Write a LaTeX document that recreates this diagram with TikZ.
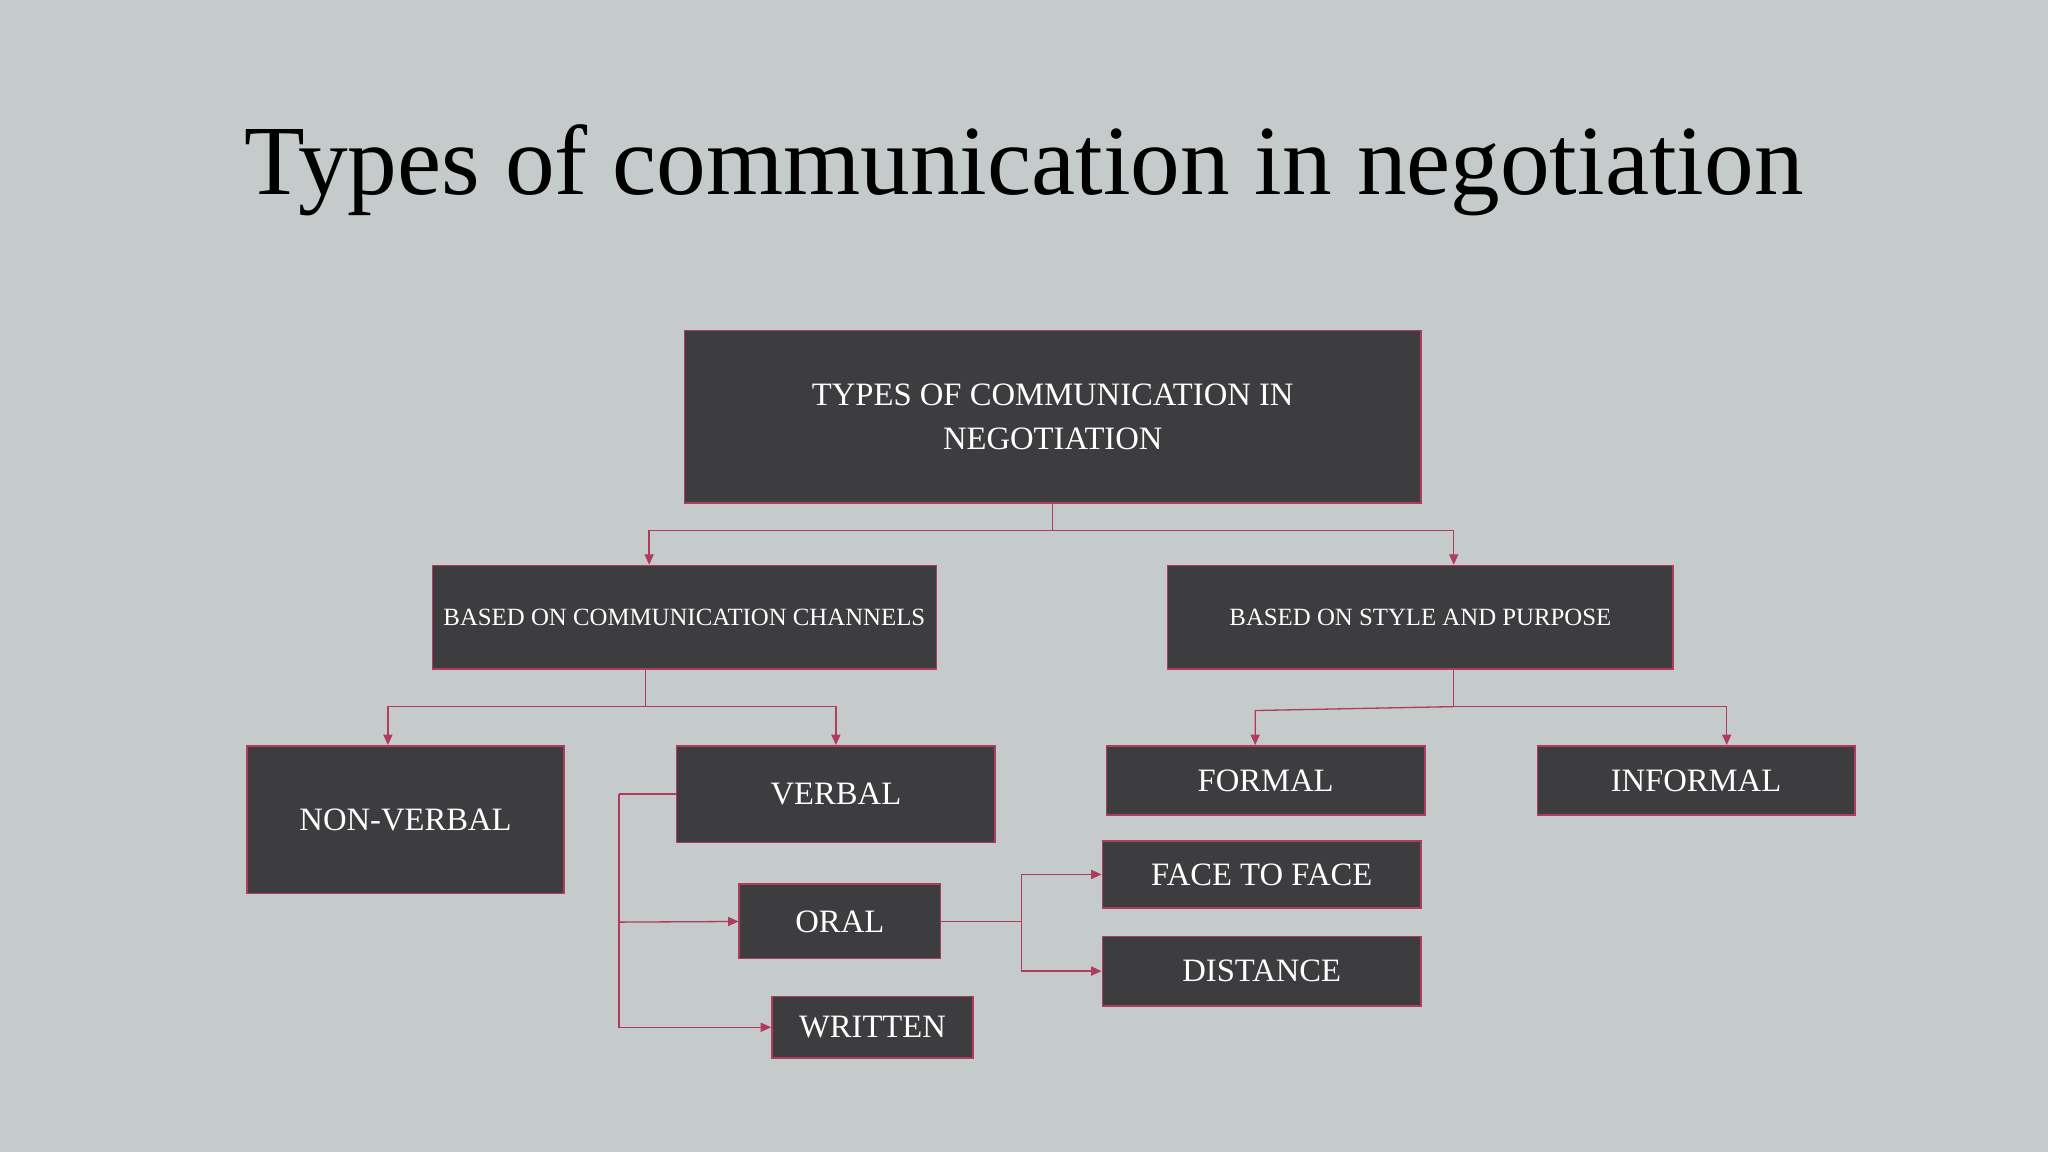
\documentclass[tikz,border=0pt]{standalone}
\usepackage{fontspec}
\setmainfont{Liberation Serif}
\usetikzlibrary{arrows.meta}
\definecolor{bg}{HTML}{C5CBCA}
\definecolor{boxc}{HTML}{3D3C3F}
\definecolor{edge}{HTML}{B03A60}
\begin{document}
\begin{tikzpicture}[x=0.5pt,y=-0.5pt,
  bx/.style={draw=edge,line width=0.6pt,fill=boxc,text=white,align=center,inner sep=0pt},
  ln/.style={draw=edge,line width=0.5pt},
  ar/.style={ln,-{Triangle[length=4pt,width=3.5pt]}}]
\fill[bg] (0,0) rectangle (1568,882);
\useasboundingbox (0,0) rectangle (1568,882);
\node (title) at (784,130) {\fontsize{38}{44}\selectfont Types of communication in negotiation};
\node[bx,minimum width=282pt,minimum height=66pt,font=\fontsize{12.5}{17}\selectfont] (top) at (806,319) {TYPES OF COMMUNICATION IN\\NEGOTIATION};
\node[bx,minimum width=193pt,minimum height=39.5pt,font=\fontsize{9.5}{12}\selectfont] (lm) at (524,472.5) {BASED ON COMMUNICATION CHANNELS};
\node[bx,minimum width=193.5pt,minimum height=39.5pt,font=\fontsize{9.5}{12}\selectfont] (rm) at (1087.5,472.5) {BASED ON STYLE AND PURPOSE};
\tikzset{fs/.style={font=\fontsize{12.5}{15}\selectfont}}
\node[bx,fs,minimum width=121.5pt,minimum height=56.5pt] (nv) at (310.5,627.5) {NON-VERBAL};
\node[bx,fs,minimum width=122pt,minimum height=37pt] (vb) at (640,608) {VERBAL};
\node[bx,fs,minimum width=122pt,minimum height=26.5pt] (fo) at (969,597.5) {FORMAL};
\node[bx,fs,minimum width=121.5pt,minimum height=26.5pt] (inf) at (1298.5,597.5) {INFORMAL};
\node[bx,fs,minimum width=122pt,minimum height=25.5pt] (ff) at (966,669.5) {FACE TO FACE};
\node[bx,fs,minimum width=122pt,minimum height=26.5pt] (di) at (966,743.5) {DISTANCE};
\node[bx,fs,minimum width=77pt,minimum height=28.5pt] (or) at (643,705.5) {ORAL};
\node[bx,fs,minimum width=77pt,minimum height=23.5pt] (wr) at (668,786.5) {WRITTEN};
% top
\coordinate (t1) at (806,406);
\draw[ln] (top.south) -- (t1);
\draw[ar] (t1) -| (lm.north -| 497,0);
\draw[ar] (t1) -| (rm.north -| 1113,0);
% left mid
\coordinate (l1) at (494,541);
\draw[ln] (lm.south -| l1) -- (l1);
\draw[ar] (l1) -| (nv.north -| 297,0);
\draw[ar] (l1) -| (vb.north);
% right mid
\coordinate (r1) at (1113,541);
\draw[ln] (rm.south -| r1) -- (r1);
\draw[ar] (r1) -- (961,544) -- (fo.north -| 961,0);
\draw[ar] (r1) -| (inf.north -| 1322,0);
% verbal
\coordinate (v1) at (474,608);
\draw[ln] (vb.west) -- (v1);
\draw[ar] (v1) |- (wr.west);
\draw[ar] (474,706) -- (or.west);
% oral
\coordinate (o1) at (782,705.5);
\draw[ln] (or.east) -- (o1);
\draw[ar] (o1) |- (ff.west);
\draw[ar] (o1) |- (di.west);
\end{tikzpicture}
\end{document}
